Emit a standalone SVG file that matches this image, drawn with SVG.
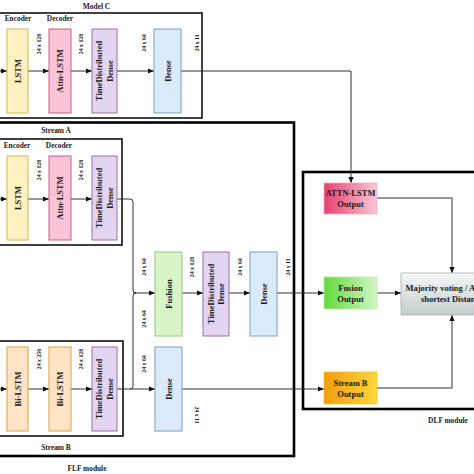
<svg xmlns="http://www.w3.org/2000/svg" width="474" height="474" viewBox="0 0 474 474">
<style>
text{font-family:"Liberation Serif","Times New Roman",serif;font-weight:bold;fill:#1a1a1a}
.t{font-size:7.4px;text-anchor:middle}
.b{font-size:8.5px;text-anchor:middle}
.l{font-size:5.8px;text-anchor:middle}
.frame{fill:none;stroke:#000;stroke-width:1.5}
.thick{fill:none;stroke:#000;stroke-width:2.6}
.y{fill:#fff2c0;stroke:#d6b656}
.p{fill:#f9c3d8;stroke:#cf5b8a}
.v{fill:#e3d5f2;stroke:#9673a6}
.d{fill:#dcebfc;stroke:#7c9cc8}
.g{fill:#d8f5c8;stroke:#97c97a}
.o{fill:#ffe3c6;stroke:#d9a441}
.c{fill:none;stroke:#333;stroke-width:1}
</style>
<defs>
<marker id="a" viewBox="0 0 6 6" refX="6" refY="3" markerWidth="6" markerHeight="6" markerUnits="userSpaceOnUse" orient="auto"><path d="M0,0.4 L6,3 L0,5.6 z" fill="#111"/></marker>
<linearGradient id="gr" x1="0" y1="0" x2="1" y2="0"><stop offset="0" stop-color="#e6406f"/><stop offset="1" stop-color="#f9c8d7"/></linearGradient>
<linearGradient id="gg" x1="0" y1="0" x2="1" y2="0"><stop offset="0" stop-color="#62d93c"/><stop offset="1" stop-color="#d4f6c6"/></linearGradient>
<linearGradient id="go" x1="0" y1="0" x2="1" y2="0"><stop offset="0" stop-color="#f39c0e"/><stop offset="1" stop-color="#ffd838"/></linearGradient>
<linearGradient id="gm" x1="0" y1="0" x2="0" y2="1"><stop offset="0" stop-color="#f6f7f7"/><stop offset="1" stop-color="#c3cdcd"/></linearGradient>
</defs>

<g id="frames">
<rect class="frame" x="-2" y="13" width="204" height="105"/>
<rect class="thick" x="-3" y="122.5" width="297" height="333.5"/>
<rect class="frame" x="-2" y="139" width="124" height="106"/>
<rect class="frame" x="-2" y="341" width="125" height="95"/>
<rect class="thick" x="303" y="172" width="180" height="237"/>
<text class="t" x="96.5" y="9">Model C</text>
<text class="t" x="18" y="21">Encoder</text>
<text class="t" x="60" y="21">Decoder</text>
<text class="t" x="56" y="133">Stream A</text>
<text class="t" x="17" y="147.5">Encoder</text>
<text class="t" x="59" y="147.5">Decoder</text>
<text class="t" x="56" y="450">Stream B</text>
<text class="t" x="87" y="471">FLF module</text>
<text class="t" x="448" y="423">DLF module</text>
</g>

<g id="connectors">
<path class="c" d="M0,71 H7" marker-end="url(#a)"/>
<path class="c" d="M28,71 H49" marker-end="url(#a)"/>
<path class="c" d="M71,71 H92" marker-end="url(#a)"/>
<path class="c" d="M117,71 H154" marker-end="url(#a)"/>
<path class="c" d="M174,71 H351 V183" marker-end="url(#a)"/>
<path class="c" d="M0,199 H7" marker-end="url(#a)"/>
<path class="c" d="M28,199 H49" marker-end="url(#a)"/>
<path class="c" d="M71,199 H92" marker-end="url(#a)"/>
<path class="c" d="M117,199 H130 Q133,199 133,202 V290 Q133,293 136,293"/>
<path class="c" d="M117,389 H155" marker-end="url(#a)"/>
<path class="c" d="M130,389 Q133,389 133,386 V296 Q133,293 136,293"/>
<path class="c" d="M133,293 H155" marker-end="url(#a)"/>
<path class="c" d="M182,293 H203" marker-end="url(#a)"/>
<path class="c" d="M229,293 H250" marker-end="url(#a)"/>
<path class="c" d="M277,293 H324" marker-end="url(#a)"/>
<path class="c" d="M0,389 H7" marker-end="url(#a)"/>
<path class="c" d="M28,389 H49" marker-end="url(#a)"/>
<path class="c" d="M71,389 H92" marker-end="url(#a)"/>
<path class="c" d="M182,389 H324" marker-end="url(#a)"/>
<path class="c" d="M377,198 H452 V273" marker-end="url(#a)"/>
<path class="c" d="M377,293 H401" marker-end="url(#a)"/>
<path class="c" d="M377,388 H452 V315" marker-end="url(#a)"/>
</g>

<g id="dims">
<text class="l" transform="translate(39,44) rotate(-90)" y="2">24 x 128</text>
<text class="l" transform="translate(81,44) rotate(-90)" y="2">24 x 128</text>
<text class="l" transform="translate(144,43) rotate(-90)" y="2">24 x 64</text>
<text class="l" transform="translate(197,43) rotate(-90)" y="2">24 x 11</text>
<text class="l" transform="translate(39,170) rotate(-90)" y="2">24 x 128</text>
<text class="l" transform="translate(81,170) rotate(-90)" y="2">24 x 128</text>
<text class="l" transform="translate(144,267) rotate(-90)" y="2">24 x 64</text>
<text class="l" transform="translate(144,319) rotate(-90)" y="2">24 x 64</text>
<text class="l" transform="translate(192,267) rotate(-90)" y="2">24 x 128</text>
<text class="l" transform="translate(240,267) rotate(-90)" y="2">24 x 64</text>
<text class="l" transform="translate(288,267) rotate(-90)" y="2">24 x 11</text>
<text class="l" transform="translate(39,359) rotate(-90)" y="2">24 x 256</text>
<text class="l" transform="translate(81,359) rotate(-90)" y="2">24 x 128</text>
<text class="l" transform="translate(144,364) rotate(-90)" y="2">24 x 64</text>
<text class="l" transform="translate(197,415) rotate(90)" y="2">24 x 11</text>
</g>

<g id="mc-lstm"><rect class="y" x="7" y="29" width="21" height="84"/><text class="b" transform="translate(17.5,71) rotate(-90)" y="3">LSTM</text></g>
<g id="mc-attn"><rect class="p" x="49" y="29" width="22" height="84"/><text class="b" transform="translate(60,71) rotate(-90)" y="3">Attn-LSTM</text></g>
<g id="mc-tdd"><rect class="v" x="92" y="29" width="25" height="84"/><text class="b" transform="translate(104.5,71) rotate(-90)" y="-2.2">TimeDistributed<tspan x="0" dy="10.5">Dense</tspan></text></g>
<g id="mc-dense"><rect class="d" x="154" y="29" width="27" height="84"/><text class="b" transform="translate(167.5,71) rotate(-90)" y="3">Dense</text></g>

<g id="sa-lstm"><rect class="y" x="7" y="156" width="21" height="84"/><text class="b" transform="translate(17.5,198) rotate(-90)" y="3">LSTM</text></g>
<g id="sa-attn"><rect class="p" x="49" y="156" width="22" height="84"/><text class="b" transform="translate(60,198) rotate(-90)" y="3">Attn-LSTM</text></g>
<g id="sa-tdd"><rect class="v" x="92" y="156" width="25" height="84"/><text class="b" transform="translate(104.5,198) rotate(-90)" y="-2.2">TimeDistributed<tspan x="0" dy="10.5">Dense</tspan></text></g>

<g id="fusion"><rect class="g" x="155" y="252" width="27" height="84"/><text class="b" transform="translate(168.5,294) rotate(-90)" y="3">Fushion</text></g>
<g id="f-tdd"><rect class="v" x="203" y="252" width="26" height="84"/><text class="b" transform="translate(216,294) rotate(-90)" y="-2.2">TimeDistributed<tspan x="0" dy="10.5">Dense</tspan></text></g>
<g id="f-dense"><rect class="d" x="250" y="252" width="27" height="84"/><text class="b" transform="translate(263.5,294) rotate(-90)" y="3">Dense</text></g>

<g id="sb-bilstm1"><rect class="o" x="7" y="347" width="21" height="84"/><text class="b" transform="translate(17.5,389) rotate(-90)" y="3">Bi-LSTM</text></g>
<g id="sb-bilstm2"><rect class="o" x="49" y="347" width="22" height="84"/><text class="b" transform="translate(60,389) rotate(-90)" y="3">Bi-LSTM</text></g>
<g id="sb-tdd"><rect class="v" x="92" y="347" width="25" height="84"/><text class="b" transform="translate(104.5,389) rotate(-90)" y="-2.2">TimeDistributed<tspan x="0" dy="10.5">Dense</tspan></text></g>
<g id="sb-dense"><rect class="d" x="155" y="347" width="27" height="84"/><text class="b" transform="translate(168.5,389) rotate(-90)" y="3">Dense</text></g>

<g id="attn-out"><rect x="324" y="183" width="53" height="31" fill="url(#gr)" stroke="#f0a8c0" stroke-width="0.8"/><text class="b" x="350.5" y="196">ATTN-LSTM</text><text class="b" x="350.5" y="207">Output</text></g>
<g id="fusion-out"><rect x="324" y="277" width="53" height="32" fill="url(#gg)" stroke="#bfe8a8" stroke-width="0.8"/><text class="b" x="350.5" y="291">Fusion</text><text class="b" x="350.5" y="302">Output</text></g>
<g id="sb-out"><rect x="324" y="372" width="53" height="32" fill="url(#go)" stroke="#f5c040" stroke-width="0.8"/><text class="b" x="350.5" y="386">Stream B</text><text class="b" x="350.5" y="397">Output</text></g>
<g id="majority"><rect x="401" y="273" width="102" height="42" fill="url(#gm)" stroke="#a6adad" stroke-width="0.8"/><text class="b" x="452" y="291">Majority voting / Average</text><text class="b" x="452" y="302">shortest Distance</text></g>
</svg>
